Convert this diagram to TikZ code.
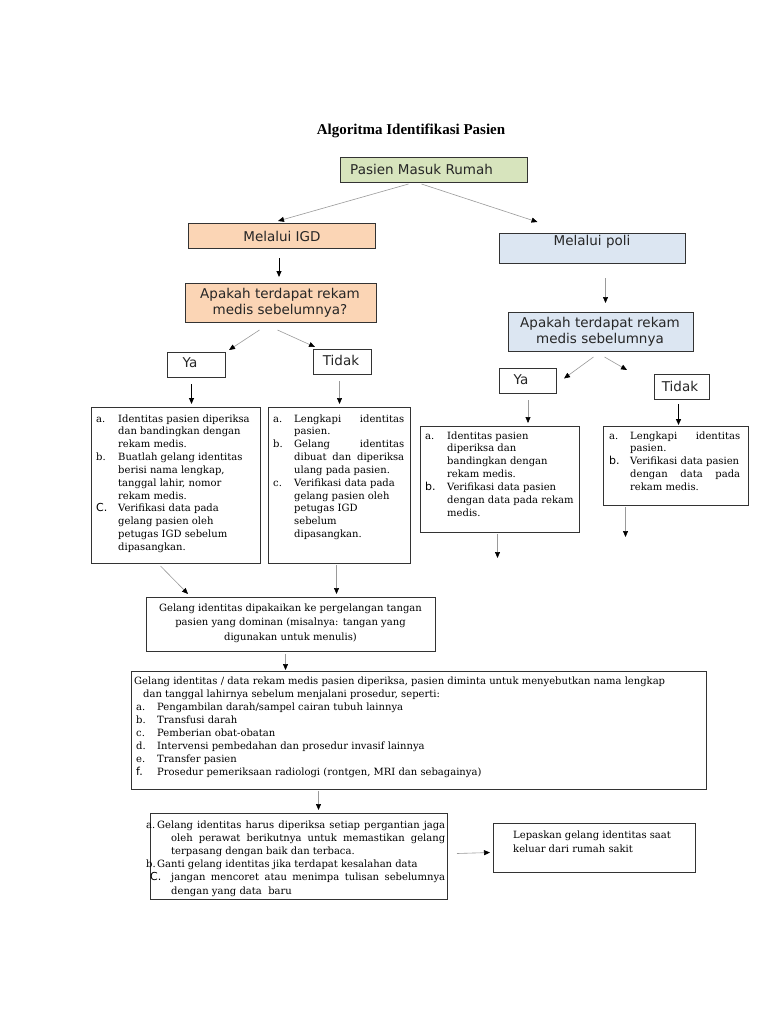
\documentclass[tikz,border=0pt]{standalone}
\usepackage{fontspec}
\setmainfont{DejaVu Serif}
\newfontfamily\sansf{DejaVu Sans}
\newfontfamily\titlef{Liberation Serif}
\usetikzlibrary{arrows.meta,calc}
\definecolor{pgreen}{HTML}{D7E4BD}
\definecolor{ppeach}{HTML}{FBD5B5}
\definecolor{pblue}{HTML}{DCE6F2}
\definecolor{lgrey}{HTML}{9A9A9A}
\newcommand{\lb}[1]{{\sansf\fontsize{11}{12}\selectfont #1}}
\newcommand{\js}[2]{\makebox[#1pt][s]{#2}}
\begin{document}
\begin{tikzpicture}[x=1pt,y=-1pt,
  box/.style={draw=black!80, line width=1pt, inner sep=0pt, anchor=north west},
  hd/.style={font=\sansf\fontsize{13.5}{16}\selectfont, inner sep=0pt, text=black!85},
  tx/.style={font=\fontsize{10}{12.85}\selectfont, inner sep=0pt, anchor=base west},
  ga/.style={draw=lgrey, line width=0.6pt, -{Triangle[length=6pt,width=5pt,color=black]}},
  ba/.style={draw=black, line width=0.9pt, -{Triangle[length=6pt,width=5pt]}}]
\useasboundingbox[fill=white] (0,0) rectangle (768,1024);

% boxes
\node[box, fill=pgreen, minimum width=187, minimum height=25] (pmr) at (340,157) {};
\node[box, fill=ppeach, minimum width=187, minimum height=25] (igd) at (188,223) {};
\node[box, fill=pblue, minimum width=186, minimum height=30] (poli) at (499,233) {};
\node[box, fill=ppeach, minimum width=191, minimum height=39] (q1) at (185,283) {};
\node[box, fill=pblue, minimum width=185, minimum height=39] (q2) at (508,312) {};
\node[box, minimum width=58, minimum height=25] (ya1) at (167,352) {};
\node[box, minimum width=58, minimum height=25] (td1) at (313,349) {};
\node[box, minimum width=57, minimum height=25] (ya2) at (499,368) {};
\node[box, minimum width=55, minimum height=25] (td2) at (654,374) {};
\node[box, minimum width=169, minimum height=156] (l1) at (91,407) {};
\node[box, minimum width=142, minimum height=156] (l2) at (268,407) {};
\node[box, minimum width=159, minimum height=106] (l3) at (420,426) {};
\node[box, minimum width=145, minimum height=79] (l4) at (603,426) {};
\node[box, minimum width=289, minimum height=54] (g) at (146,597) {};
\node[box, minimum width=575, minimum height=118] (big) at (131,671) {};
\node[box, minimum width=297, minimum height=86] (b1) at (150,813) {};
\node[box, minimum width=202, minimum height=49] (b2) at (493,823) {};

% texts
\node[font=\titlef\bfseries\fontsize{15}{17}\selectfont, inner sep=0pt] (title) at (411,131) {Algoritma Identifikasi Pasien};
\node[hd, anchor=west] (pmrt) at (350,169) {Pasien Masuk Rumah};
\node[hd] (igdt) at (282,236) {Melalui IGD};
\node[hd] (polit) at (592,242) {Melalui poli};
\node[hd, align=center] (q1t) at (280,303) {Apakah terdapat rekam\\medis sebelumnya?};
\node[hd, align=center] (q2t) at (600,332) {Apakah terdapat rekam\\medis sebelumnya};
\node[hd] (ya1t) at (190,363) {Ya};
\node[hd] (td1t) at (341,360) {Tidak};
\node[hd] (ya2t) at (521,380) {Ya};
\node[hd] (td2t) at (680,386) {Tidak};

\node[tx] (l1t) at (96,422) {\begin{tabular}[t]{@{}p{22pt}@{}l@{}}
a. & Identitas pasien diperiksa\\
   & dan bandingkan dengan\\
   & rekam medis.\\
b. & Buatlah gelang identitas\\
   & berisi nama lengkap,\\
   & tanggal lahir, nomor\\
   & rekam medis.\\
\lb{C.} & Verifikasi data pada\\
   & gelang pasien oleh\\
   & petugas IGD sebelum\\
   & dipasangkan.
\end{tabular}};

\node[tx] (l2t) at (273,422) {\begin{tabular}[t]{@{}p{21pt}@{}l@{}}
a. & \js{110}{Lengkapi identitas}\\
   & pasien.\\
b. & \js{110}{Gelang identitas}\\
   & \js{110}{dibuat dan diperiksa}\\
   & ulang pada pasien.\\
c. & Verifikasi data pada\\
   & gelang pasien oleh\\
   & petugas IGD\\
   & sebelum\\
   & dipasangkan.
\end{tabular}};

\node[tx] (l3t) at (425,439) {\begin{tabular}[t]{@{}p{22pt}@{}l@{}}
a. & Identitas pasien\\
   & diperiksa dan\\
   & bandingkan dengan\\
   & rekam medis.\\
\lb{b.} & Verifikasi data pasien\\
   & dengan data pada rekam\\
   & medis.
\end{tabular}};

\node[tx] (l4t) at (609,439) {\begin{tabular}[t]{@{}p{21pt}@{}l@{}}
a. & \js{110}{Lengkapi identitas}\\
   & pasien.\\
\lb{b.} & Verifikasi data pasien\\
   & \js{110}{dengan data pada}\\
   & rekam medis.
\end{tabular}};

\node[font=\fontsize{10}{14.5}\selectfont, inner sep=0pt, align=center] (gt) at (290.5,623)
  {Gelang identitas dipakaikan ke pergelangan tangan\\pasien yang dominan (misalnya: tangan yang\\digunakan untuk menulis)};

\node[tx, font=\fontsize{10}{13}\selectfont] (bigt) at (134,684) {\begin{tabular}[t]{@{}p{23pt}@{}l@{}}
\multicolumn{2}{@{}l@{}}{Gelang identitas / data rekam medis pasien diperiksa, pasien diminta untuk menyebutkan nama lengkap}\\
\multicolumn{2}{@{}l@{}}{\hspace*{9pt}dan tanggal lahirnya sebelum menjalani prosedur, seperti:}\\
\hspace*{2pt}a. & Pengambilan darah/sampel cairan tubuh lainnya\\
\hspace*{2pt}b. & Transfusi darah\\
\hspace*{2pt}c. & Pemberian obat-obatan\\
\hspace*{2pt}d. & Intervensi pembedahan dan prosedur invasif lainnya\\
\hspace*{2pt}e. & Transfer pasien\\
\hspace*{2pt}\lb{f.} & Prosedur pemeriksaan radiologi (rontgen, MRI dan sebagainya)
\end{tabular}};

\node[tx, font=\fontsize{10}{13.2}\selectfont] (b1t) at (146,828) {\begin{tabular}[t]{@{}l@{}}
\makebox[11pt][l]{a.}\js{288}{Gelang identitas harus diperiksa setiap pergantian jaga}\\
\hspace*{25pt}\js{274}{oleh perawat berikutnya untuk memastikan gelang}\\
\hspace*{25pt}terpasang dengan baik dan terbaca.\\
\makebox[11pt][l]{b.}Ganti gelang identitas jika terdapat kesalahan data\\
\hspace*{4pt}\makebox[21pt][l]{\lb{C.}}\js{274}{jangan mencoret atau menimpa tulisan sebelumnya}\\
\hspace*{25pt}dengan yang data\ \ baru
\end{tabular}};

\node[tx, font=\fontsize{10}{14}\selectfont] (b2t) at (513,838) {\begin{tabular}[t]{@{}l@{}}
Lepaskan gelang identitas saat\\
keluar dari rumah sakit
\end{tabular}};

% connectors
\draw[ga] ($(pmr.south)+(-25.5,1)$) -- ($(igd.north)+(-4,-2)$);
\draw[ga] ($(pmr.south)+(-12.5,1)$) -- ($(poli.north)+(-55,-11)$);
\draw[ba] ($(igd.south)+(-3,9)$) -- ($(q1.north)+(-2,-6)$);
\draw[ga] ($(poli.south)+(13,14)$) -- ($(q2.north)+(4.5,-9)$);
\draw[ga] ($(q1.south)+(-21.5,7)$) -- ($(ya1.north east)+(3,-2)$);
\draw[ga] ($(q1.south)+(-3.5,7)$) -- ($(td1.north west)+(2,-2)$);
\draw[ba] ($(ya1.south)+(-5,6)$) -- ($(l1.north)+(15.5,-3)$);
\draw[ga] ($(td1.south)+(-3,6)$) -- ($(l2.north)+(0,-3)$);
\draw[ga] ($(q2.south)+(-7.5,5)$) -- ($(ya2.east)+(7,-2.5)$);
\draw[ga] ($(q2.south)+(3.5,5)$) -- ($(td2.north west)+(-27,-4)$);
\draw[ga] ($(ya2.south)+(0,6)$) -- ($(l3.north)+(28,-3)$);
\draw[ba, line width=1.3pt] ($(td2.south)+(-3.5,4)$) -- ($(l4.north)+(2.5,-1)$);
\coordinate (e3) at ($(l3.south)+(-2.5,25)$);
\draw[ga] ($(l3.south)+(-2.5,1)$) -- (e3);
\coordinate (e4) at ($(l4.south)+(-50.5,31)$);
\draw[ga] ($(l4.south)+(-50.5,1)$) -- (e4);
\draw[ga] ($(l1.south)+(-15.5,2)$) -- ($(g.north west)+(42,-3)$);
\draw[ga] ($(l2.south)+(-3,1)$) -- ($(g.north)+(45.5,-3)$);
\draw[ga] ($(g.south)+(-5.5,2)$) -- ($(big.north)+(-133.5,-1)$);
\draw[ga] ($(big.south)+(-100.5,1)$) -- ($(b1.north)+(19.5,-3)$);
\draw[ga] ($(b1.east)+(9,-3)$) -- ($(b2.west)+(-3,4.5)$);
\end{tikzpicture}
\end{document}
